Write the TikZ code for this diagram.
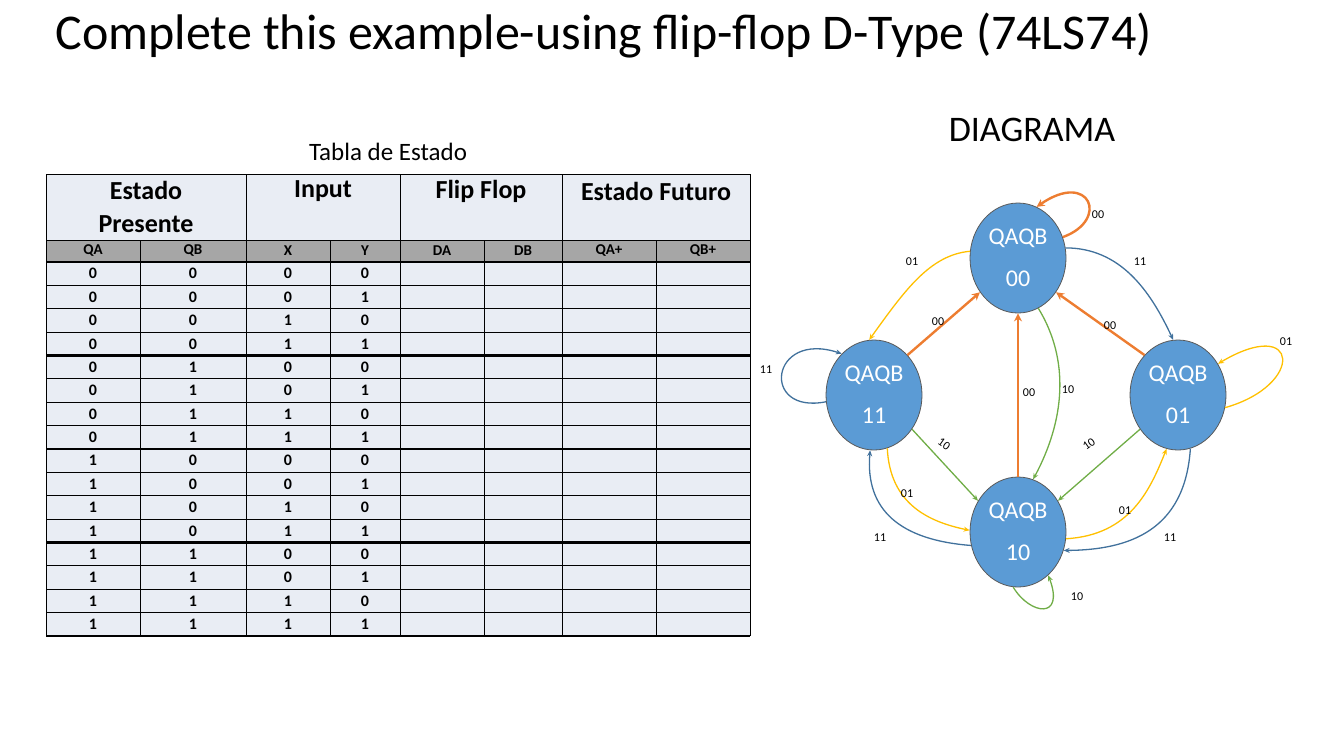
\documentclass[tikz,border=0pt]{standalone}
\usepackage{fontspec}
\setmainfont{Carlito}
\usetikzlibrary{arrows.meta,shapes.geometric}
\definecolor{cell}{HTML}{E9EDF4}
\definecolor{hdr}{HTML}{A6A6A6}
\definecolor{st}{HTML}{5B9BD5}
\definecolor{cor}{HTML}{ED7D31}
\definecolor{cbl}{HTML}{41719C}
\definecolor{cye}{HTML}{FFC000}
\definecolor{cgr}{HTML}{70AD47}
\begin{document}
\begin{tikzpicture}[x=1pt,y=-1pt,
  state/.style={ellipse,fill=st,draw=gray!70!black,line width=0.8pt,minimum width=96pt,minimum height=110pt,text=white,font=\fontsize{24}{42}\selectfont,align=center,inner sep=0pt},
  tr/.style={line width=1.3pt,-{Stealth[length=6pt,width=5pt]}},
  thk/.style={tr,line width=2.4pt,-{Stealth[length=8pt,width=8pt]}},
  lb/.style={font=\fontsize{12}{13}\selectfont,inner sep=1pt},
  hd/.style={font=\bfseries\fontsize{26}{33}\selectfont,align=center},
  sh/.style={font=\bfseries\fontsize{15}{16}\selectfont},
  dt/.style={font=\bfseries\fontsize{16}{17}\selectfont}]
\useasboundingbox (0,0) rectangle (1330,748);
\node[anchor=west,font=\fontsize{50}{56}\selectfont] (title) at (52,36) {Complete this example-using flip-flop D-Type (74LS74)};
\node[font=\fontsize{25}{28}\selectfont] (tab) at (388,152) {Tabla de Estado};
\node[font=\fontsize{36}{40}\selectfont] (dg) at (1032,130) {DIAGRAMA};
% table
\fill[cell] (46,174) rectangle (750,636);
\fill[hdr] (46,240) rectangle (750,262);
\foreach \x in {46,246,400,562,750} \draw[line width=0.8pt] (\x,174) -- (\x,636);
\foreach \x in {140,330,484,656} \draw[line width=0.8pt] (\x,240) -- (\x,636);
\draw[line width=0.8pt] (46,174) -- (750,174);
\draw[line width=0.8pt] (46,240) -- (750,240);
\foreach \i in {1,...,15} {
  \pgfmathsetmacro\yy{262+\i*23.375}
  \draw[line width=0.8pt] (46,\yy) -- (750,\yy);}
\foreach \yy in {262,355.5,449,542.5,636} \draw[line width=2.6pt] (46,\yy) -- (750,\yy);
\node[hd] (h1) at (146,207) {Estado\\Presente};
\node[hd] (h2) at (323,191) {Input};
\node[hd] (h3) at (481,191) {Flip Flop};
\node[hd] (h4) at (656,191) {Estado Futuro};
\foreach \t/\x in {QA/93,QB/193,X/288,Y/365,DA/442,DB/523,QA+/609,QB+/703}
  \node[sh] at (\x,251) {\t};
\foreach \i in {0,...,15} {
  \pgfmathtruncatemacro\a{mod(int(\i/8),2)}
  \pgfmathtruncatemacro\b{mod(int(\i/4),2)}
  \pgfmathtruncatemacro\c{mod(int(\i/2),2)}
  \pgfmathtruncatemacro\d{mod(\i,2)}
  \pgfmathsetmacro\yy{273.7+\i*23.375}
  \node[dt] at (93,\yy) {\a};
  \node[dt] at (193,\yy) {\b};
  \node[dt] at (288,\yy) {\c};
  \node[dt] at (365,\yy) {\d};}
% states
\node[state] (n00) at (1018,258) {QAQB\\00};
\node[state] (n11) at (874,395) {QAQB\\11};
\node[state] (n01) at (1178,395) {QAQB\\01};
\node[state] (n10) at (1018,532) {QAQB\\10};
% edges
\draw[thk,cor] (n00.25) .. controls (1110,220) and (1090,170) .. (n00.70);
\node[lb] at (1098,215) {00};
\draw[tr,cye] (n00.172) .. controls (930,255) and (905,290) .. (n11.95);
\node[lb] at (912,262) {01};
\draw[tr,cbl] (n00.12) .. controls (1120,248) and (1150,290) .. (n01.95);
\node[lb] at (1140,262) {11};
\draw[thk,cor] (n11.50) -- (n00.222);
\node[lb] at (938,322) {00};
\draw[thk,cor] (n01.130) -- (n00.318);
\node[lb] at (1110,326) {00};
\draw[thk,cor] (n10.90) -- (n00.270);
\node[lb] at (1029,393) {00};
\draw[tr,cgr] (n00.292) .. controls (1070,360) and (1065,420) .. (n10.74);
\node[lb] at (1068,390) {10};
\draw[tr,cgr] (n11.318) -- (n10.142);
\node[lb,rotate=-35] at (944,444) {10};
\draw[tr,cgr] (n01.222) -- (n10.38);
\node[lb,rotate=35] at (1089,444) {10};
\draw[tr,cye] (n11.284) .. controls (890,505) and (930,522) .. (n10.178);
\node[lb] at (907,494) {01};
\draw[tr,cbl] (n10.196) .. controls (900,540) and (865,510) .. (n11.266);
\node[lb] at (880,538) {11};
\draw[tr,cye] (n10.352) .. controls (1130,535) and (1150,490) .. (n01.258);
\node[lb] at (1125,511) {01};
\draw[tr,cbl] (n01.283) .. controls (1185,530) and (1130,550) .. (n10.338);
\node[lb] at (1170,538) {11};
\draw[tr,cgr] (n10.265) .. controls (1030,615) and (1065,620) .. (n10.305);
\node[lb] at (1077,597) {10};
\draw[tr,cbl] (n11.188) .. controls (760,415) and (770,330) .. (n11.128);
\node[lb] at (766,370) {11};
\draw[tr,cye] (n01.345) .. controls (1305,385) and (1300,315) .. (n01.38);
\node[lb] at (1286,342) {01};
\end{tikzpicture}
\end{document}
